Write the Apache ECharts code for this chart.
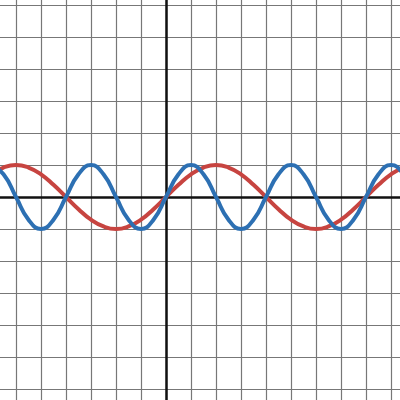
<!DOCTYPE html>
<html>
<head>
<meta charset="UTF-8">
<style>
html,body{margin:0;padding:0;background:#fff;overflow:hidden;width:400px;height:400px}
#c{position:absolute;left:-9px;top:-27px;width:425px;height:448px}
</style>
</head>
<body>
<div id="c"></div>
<script src="https://cdn.jsdelivr.net/npm/echarts/dist/echarts.min.js"></script>
<script>
// x sampled every 0.5 unit from -7 to 10
var xs = [];
for (var i = 0; i < 35; i++) xs.push(-7 + i * 0.5);
var blueVals = [1,0.71,0,-0.71,-1,-0.71,0,0.71, 1,0.71,0,-0.71,-1,-0.71,0,0.71,
                1,0.71,0,-0.71,-1,-0.71,0,0.71, 1,0.71,0,-0.71,-1,-0.71,0,0.71, 1,0.71,0];
var redVals = [0.71,0.92,1,0.92,0.71,0.38,0,-0.38,-0.71,-0.92,-1,-0.92,-0.71,-0.38,
               0,0.38,0.71,0.92,1,0.92,0.71,0.38,0,-0.38,-0.71,-0.92,-1,-0.92,-0.71,-0.38,
               0,0.38,0.71,0.92,1];

function pairs(v) { return xs.map(function (x, i) { return [x, v[i]]; }); }

var chart = echarts.init(document.getElementById('c'));
var axisCommon = {
    type: 'value', interval: 1,
    axisLine: { onZero: true, lineStyle: { color: '#111', width: 2.5 } },
    axisTick: { show: false }, axisLabel: { show: false },
    splitLine: { show: true, lineStyle: { color: '#777', width: 1.2 } }
};
chart.setOption({
    animation: false,
    grid: { left: 0, right: 0, top: 0, bottom: 0 },
    xAxis: Object.assign({ min: -7, max: 10 }, axisCommon),
    yAxis: Object.assign({ min: -7, max: 7 }, axisCommon),
    series: [
        { type: 'line', data: pairs(redVals), smooth: 0.5, symbol: 'none',
          lineStyle: { color: '#c74440', width: 4 } },
        { type: 'line', data: pairs(blueVals), smooth: 0.5, symbol: 'none',
          lineStyle: { color: '#2d70b3', width: 4 } }
    ]
});
</script>
</body>
</html>
